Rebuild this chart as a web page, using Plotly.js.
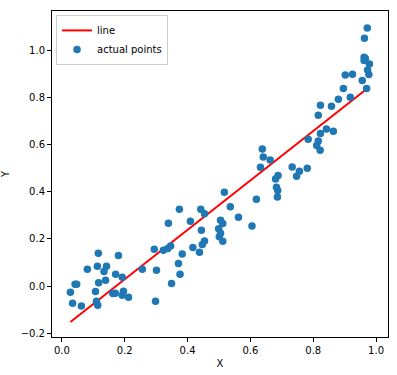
<!DOCTYPE html>
<html>
<head>
<meta charset="utf-8">
<script src="https://cdn.plot.ly/plotly-3.0.1.min.js"></script>
<style>html,body{margin:0;padding:0;background:#fff;}#chart{width:397px;height:375px;}</style>
</head>
<body>
<div id="chart"></div>
<script>
// Scatter points (actual values)
const pointsX = [0.116,0.180,0.081,0.113,0.142,0.134,0.171,0.192,0.042,0.047,0.117,0.139,0.027,0.107,0.162,0.170,0.196,0.192,0.212,0.034,0.062,0.110,0.114,
  0.256,0.294,0.301,0.298,0.323,0.339,0.346,0.337,0.349,0.371,0.374,0.383,0.376,0.409,0.417,0.438,0.442,0.454,0.444,0.454,0.447,
  0.505,0.512,0.499,0.505,0.501,0.512,0.517,0.536,0.562,0.605,0.619,0.632,0.638,0.641,0.663,0.688,0.680,0.683,0.687,0.686,
  0.733,0.756,0.747,0.781,0.784,0.811,0.816,0.822,0.823,0.842,0.864,0.816,0.823,0.858,0.880,0.918,0.896,0.970,0.902,0.925,
  0.956,0.977,0.973,0.979,0.962,0.966,0.962,0.963,0.972];
const pointsY = [0.139,0.130,0.071,0.084,0.084,0.062,0.050,0.037,0.007,0.007,0.014,0.024,-0.027,-0.023,-0.032,-0.031,-0.022,-0.039,-0.048,-0.073,-0.085,-0.065,-0.082,
  0.071,0.156,0.067,-0.065,0.152,0.267,0.170,0.159,0.011,0.096,0.326,0.136,0.050,0.275,0.163,0.143,0.326,0.307,0.237,0.191,0.176,
  0.279,0.265,0.243,0.224,0.209,0.190,0.398,0.337,0.292,0.255,0.368,0.504,0.582,0.548,0.535,0.469,0.454,0.419,0.406,0.378,
  0.505,0.487,0.466,0.500,0.623,0.597,0.616,0.577,0.648,0.667,0.657,0.725,0.768,0.763,0.793,0.802,0.839,0.839,0.896,0.899,
  0.873,0.898,0.917,0.943,0.972,0.966,0.958,1.052,1.096];
// Fitted line endpoints
const lineX = [0.027, 0.970];
const lineY = [-0.153, 0.837];
const xTicks = [0.0, 0.2, 0.4, 0.6, 0.8, 1.0];
const yTicks = [-0.2, 0.0, 0.2, 0.4, 0.6, 0.8, 1.0];

const font = {family: 'DejaVu Sans, sans-serif', size: 10, color: '#000'};
const traces = [
  {x: lineX, y: lineY, type: 'scatter', mode: 'lines', name: 'line',
   line: {color: '#ff0000', width: 2}},
  {x: pointsX, y: pointsY, type: 'scatter', mode: 'markers', name: 'actual points',
   marker: {color: '#1f77b4', size: 7.5}}
];
const axisCommon = {
  showline: true, mirror: true, linecolor: '#000', linewidth: 1,
  ticks: 'outside', ticklen: 4, tickwidth: 1, tickcolor: '#000',
  showgrid: false, zeroline: false, tickformat: '.1f', tickfont: font
};
const layout = {
  width: 397, height: 375,
  margin: {l: 52, r: 9, t: 11, b: 38},
  paper_bgcolor: '#fff', plot_bgcolor: '#fff',
  font: font,
  showlegend: true,
  legend: {x: 0.012, y: 0.988, xanchor: 'left', yanchor: 'top',
    bgcolor: 'rgba(255,255,255,0.8)', bordercolor: '#cccccc', borderwidth: 1,
    font: font, itemwidth: 30, tracegroupgap: 0},
  xaxis: Object.assign({}, axisCommon, {range: [-0.0315, 1.038], tickvals: xTicks,
    title: {text: 'X', font: font, standoff: 4}}),
  yaxis: Object.assign({}, axisCommon, {range: [-0.2166, 1.168], tickvals: yTicks,
    title: {text: 'Y', font: font, standoff: 13}})
};
Plotly.newPlot('chart', traces, layout, {displayModeBar: false, staticPlot: true});
</script>
</body>
</html>
